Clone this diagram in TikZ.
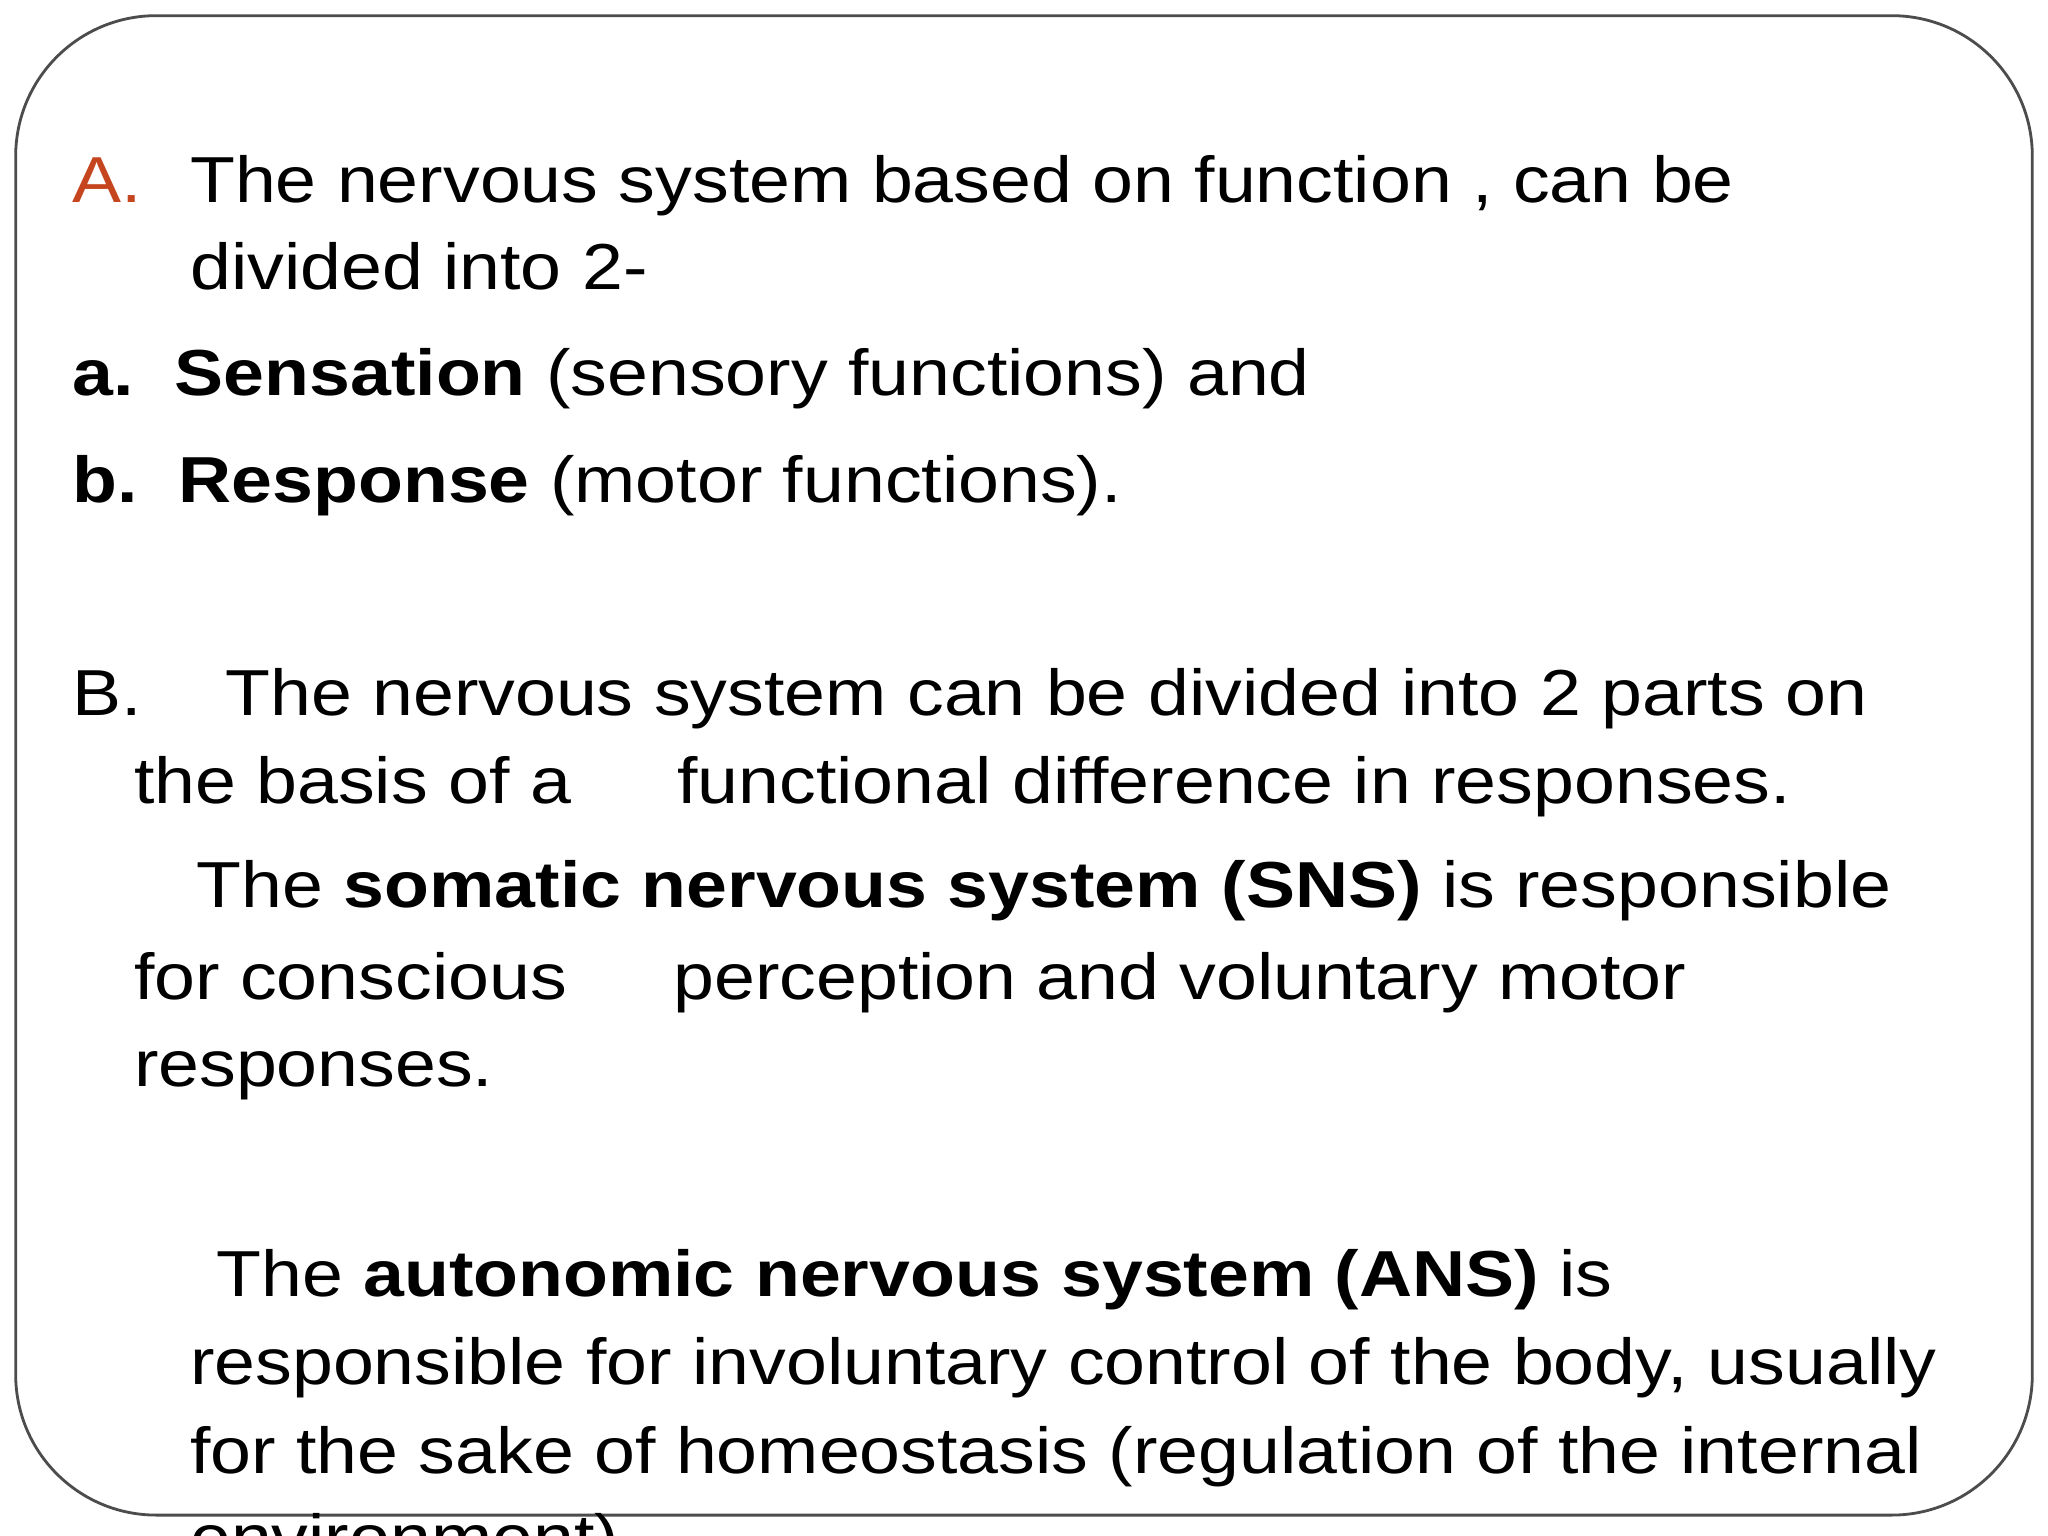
\documentclass[tikz,border=0pt]{standalone}
\usepackage{fontspec}
\setmainfont{Liberation Sans}
\definecolor{orng}{HTML}{C5461E}
\begin{document}
\begin{tikzpicture}[x=0.013061cm,y=-0.013061cm,
  txt/.style={anchor=base west,inner sep=0pt,xscale=1.13,transform shape,font=\fontsize{18.5pt}{22pt}\selectfont}]
\useasboundingbox (0,0) rectangle (1568,1176);
\clip (0,0) rectangle (1568,1176);
\fill[white] (0,0) rectangle (1568,1176);
\draw[rounded corners=40,line width=0.8pt,black!70] (12,12) rectangle (1556,1160);
\node[txt,text=orng] (A) at (55,155) {A.};
\node[txt] (A1) at (145,155) {The nervous system based on function , can be};
\node[txt] (A2) at (145,222) {divided into 2-};
\node[txt] (a) at (55,303) {\textbf{a.}\ \ \textbf{Sensation} (sensory functions) and};
\node[txt] (b) at (55,385) {\textbf{b.}\ \ \textbf{Response} (motor functions).};
\node[txt] (B) at (55,548) {B.};
\node[txt] (B1) at (172,548) {The nervous system can be divided into 2 parts on};
\node[txt] (B2) at (102,615) {the basis of a};
\node[txt] (B3) at (518,615) {functional difference in responses.};
\node[txt] (S1) at (150,695) {The \textbf{somatic nervous system (SNS)} is responsible};
\node[txt] (S2) at (102,765) {for conscious};
\node[txt] (S3) at (515,765) {perception and voluntary motor};
\node[txt] (S4) at (102,832) {responses.};
\node[txt] (N1) at (165,993) {The \textbf{autonomic nervous system (ANS)} is};
\node[txt] (N2) at (145,1060) {responsible for involuntary control of the body, usually};
\node[txt] (N3) at (145,1128) {for the sake of homeostasis (regulation of the internal};
\node[txt] (N4) at (145,1195) {environment).};
\end{tikzpicture}
\end{document}
